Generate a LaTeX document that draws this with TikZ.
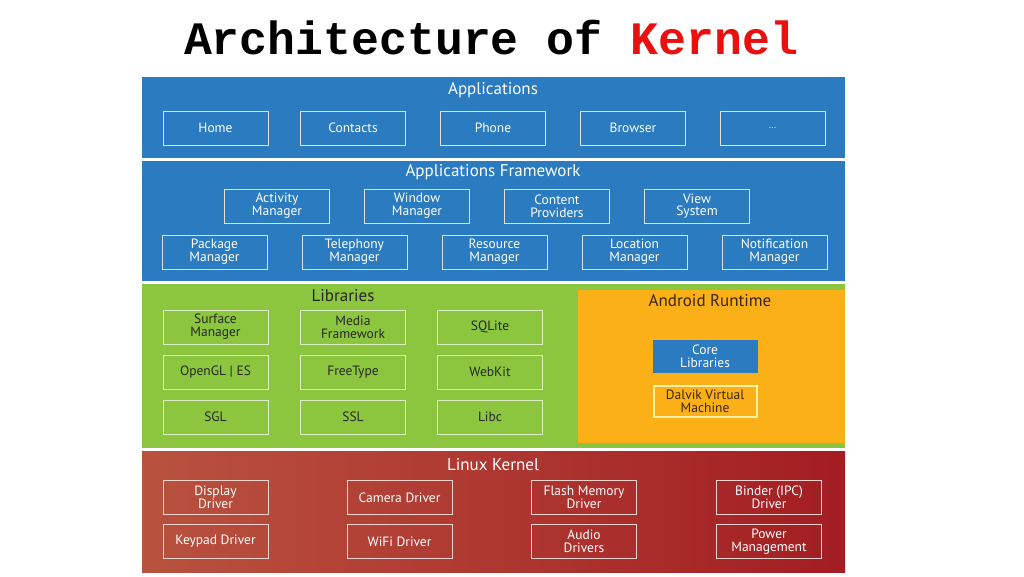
\documentclass[tikz,border=0pt]{standalone}
\usepackage{fontspec}
\setmainfont{PT Sans}
\newfontfamily\monob{Liberation Mono}
\usetikzlibrary{positioning}
\definecolor{lblue}{HTML}{2B7BC1}
\definecolor{lgreen}{HTML}{8CC63E}
\definecolor{lorange}{HTML}{FBB017}
\definecolor{redL}{HTML}{B9523F}
\definecolor{redR}{HTML}{A31D22}
\definecolor{ttred}{HTML}{E8110F}
\definecolor{darktxt}{HTML}{3A2508}
\definecolor{dalvikline}{HTML}{FFF1A8}
\tikzset{
  layer/.style={draw=none},
  ltitle/.style={text=white, font=\fontsize{17}{19}\selectfont},
  cbox/.style={draw=white!88!black, line width=1pt, text=white, minimum width=105pt, minimum height=34pt,
     inner sep=0pt, align=center, font=\fontsize{13.5}{12.8}\selectfont},
  gbox/.style={cbox, text=black!85, draw=white!70!lgreen},
  rbox/.style={cbox, draw=white!75!redL},
}
\begin{document}
\begin{tikzpicture}[x=1pt,y=-1pt]
\useasboundingbox[fill=white] (0,0) rectangle (1024,576);
% title
\node[font=\monob\bfseries\fontsize{46.5}{50}\selectfont, anchor=base] (title) at (491,54) {Architecture of \textcolor{ttred}{Kernel}};
% layers
\fill[lblue] (142,77) rectangle (845,158);
\fill[lblue] (142,161) rectangle (845,281);
\fill[lgreen] (142,284) rectangle (845,448);
\fill[lorange] (578,290) rectangle (845,443);
\shade[left color=redL, right color=redR] (142,451) rectangle (845,572);
% Applications
\node[ltitle] (appt) at (493,90) {Applications};
\node[cbox] (home) at (215.5,128) {Home};
\node[cbox] (contacts) at (353,128) {Contacts};
\node[cbox] (phone) at (493,128) {Phone};
\node[cbox] (browser) at (633,128) {Browser};
\node[cbox] (dots) at (772.5,128) {\fontsize{9}{9}\selectfont...};
% Framework
\node[ltitle] (fwt) at (493,172) {Applications Framework};
\node[cbox] (activity) at (277,206) {Activity\\Manager};
\node[cbox] (window) at (417,206) {Window\\Manager};
\node[cbox] (content) at (557,206) {Content\\Providers};
\node[cbox] (view) at (697,206) {View\\System};
\node[cbox] (package) at (214.5,252) {Package\\Manager};
\node[cbox] (telephony) at (354.5,252) {Telephony\\Manager};
\node[cbox] (resource) at (494.5,252) {Resource\\Manager};
\node[cbox] (location) at (634.5,252) {Location\\Manager};
\node[cbox] (notification) at (774.5,252) {Notification\\Manager};
% Libraries
\node[ltitle, text=black!85] (libt) at (343,296) {Libraries};
\node[gbox] (surface) at (215.5,327) {Surface\\Manager};
\node[gbox] (media) at (353,327) {Media\\Framework};
\node[gbox] (sqlite) at (490,327) {SQLite};
\node[gbox] (opengl) at (215.5,372) {OpenGL | ES};
\node[gbox] (freetype) at (353,372) {FreeType};
\node[gbox] (webkit) at (490,372) {WebKit};
\node[gbox] (sgl) at (215.5,417) {SGL};
\node[gbox] (ssl) at (353,417) {SSL};
\node[gbox] (libc) at (490,417) {Libc};
% Android runtime
\node[ltitle, text=darktxt] (art) at (710,301) {Android Runtime};
\node[cbox, draw=none, fill=lblue, minimum height=33pt] (core) at (705,356) {Core\\Libraries};
\node[cbox, draw=dalvikline, line width=2pt, text=darktxt, minimum width=103pt, minimum height=31pt] (dalvik) at (705,401.5) {Dalvik Virtual\\Machine};
% Linux kernel
\node[ltitle] (lkt) at (493,465) {Linux Kernel};
\node[rbox] (display) at (215.5,497.5) {Display\\Driver};
\node[rbox] (camera) at (399.5,497.5) {Camera Driver};
\node[rbox] (flash) at (584,497.5) {Flash Memory\\Driver};
\node[rbox] (binder) at (769,497.5) {Binder (IPC)\\Driver};
\node[rbox] (keypad) at (215.5,541.5) {Keypad Driver};
\node[rbox] (wifi) at (399.5,541.5) {WiFi Driver};
\node[rbox] (audio) at (584,541.5) {Audio\\Drivers};
\node[rbox] (power) at (769,541.5) {Power\\Management};
\end{tikzpicture}
\end{document}
